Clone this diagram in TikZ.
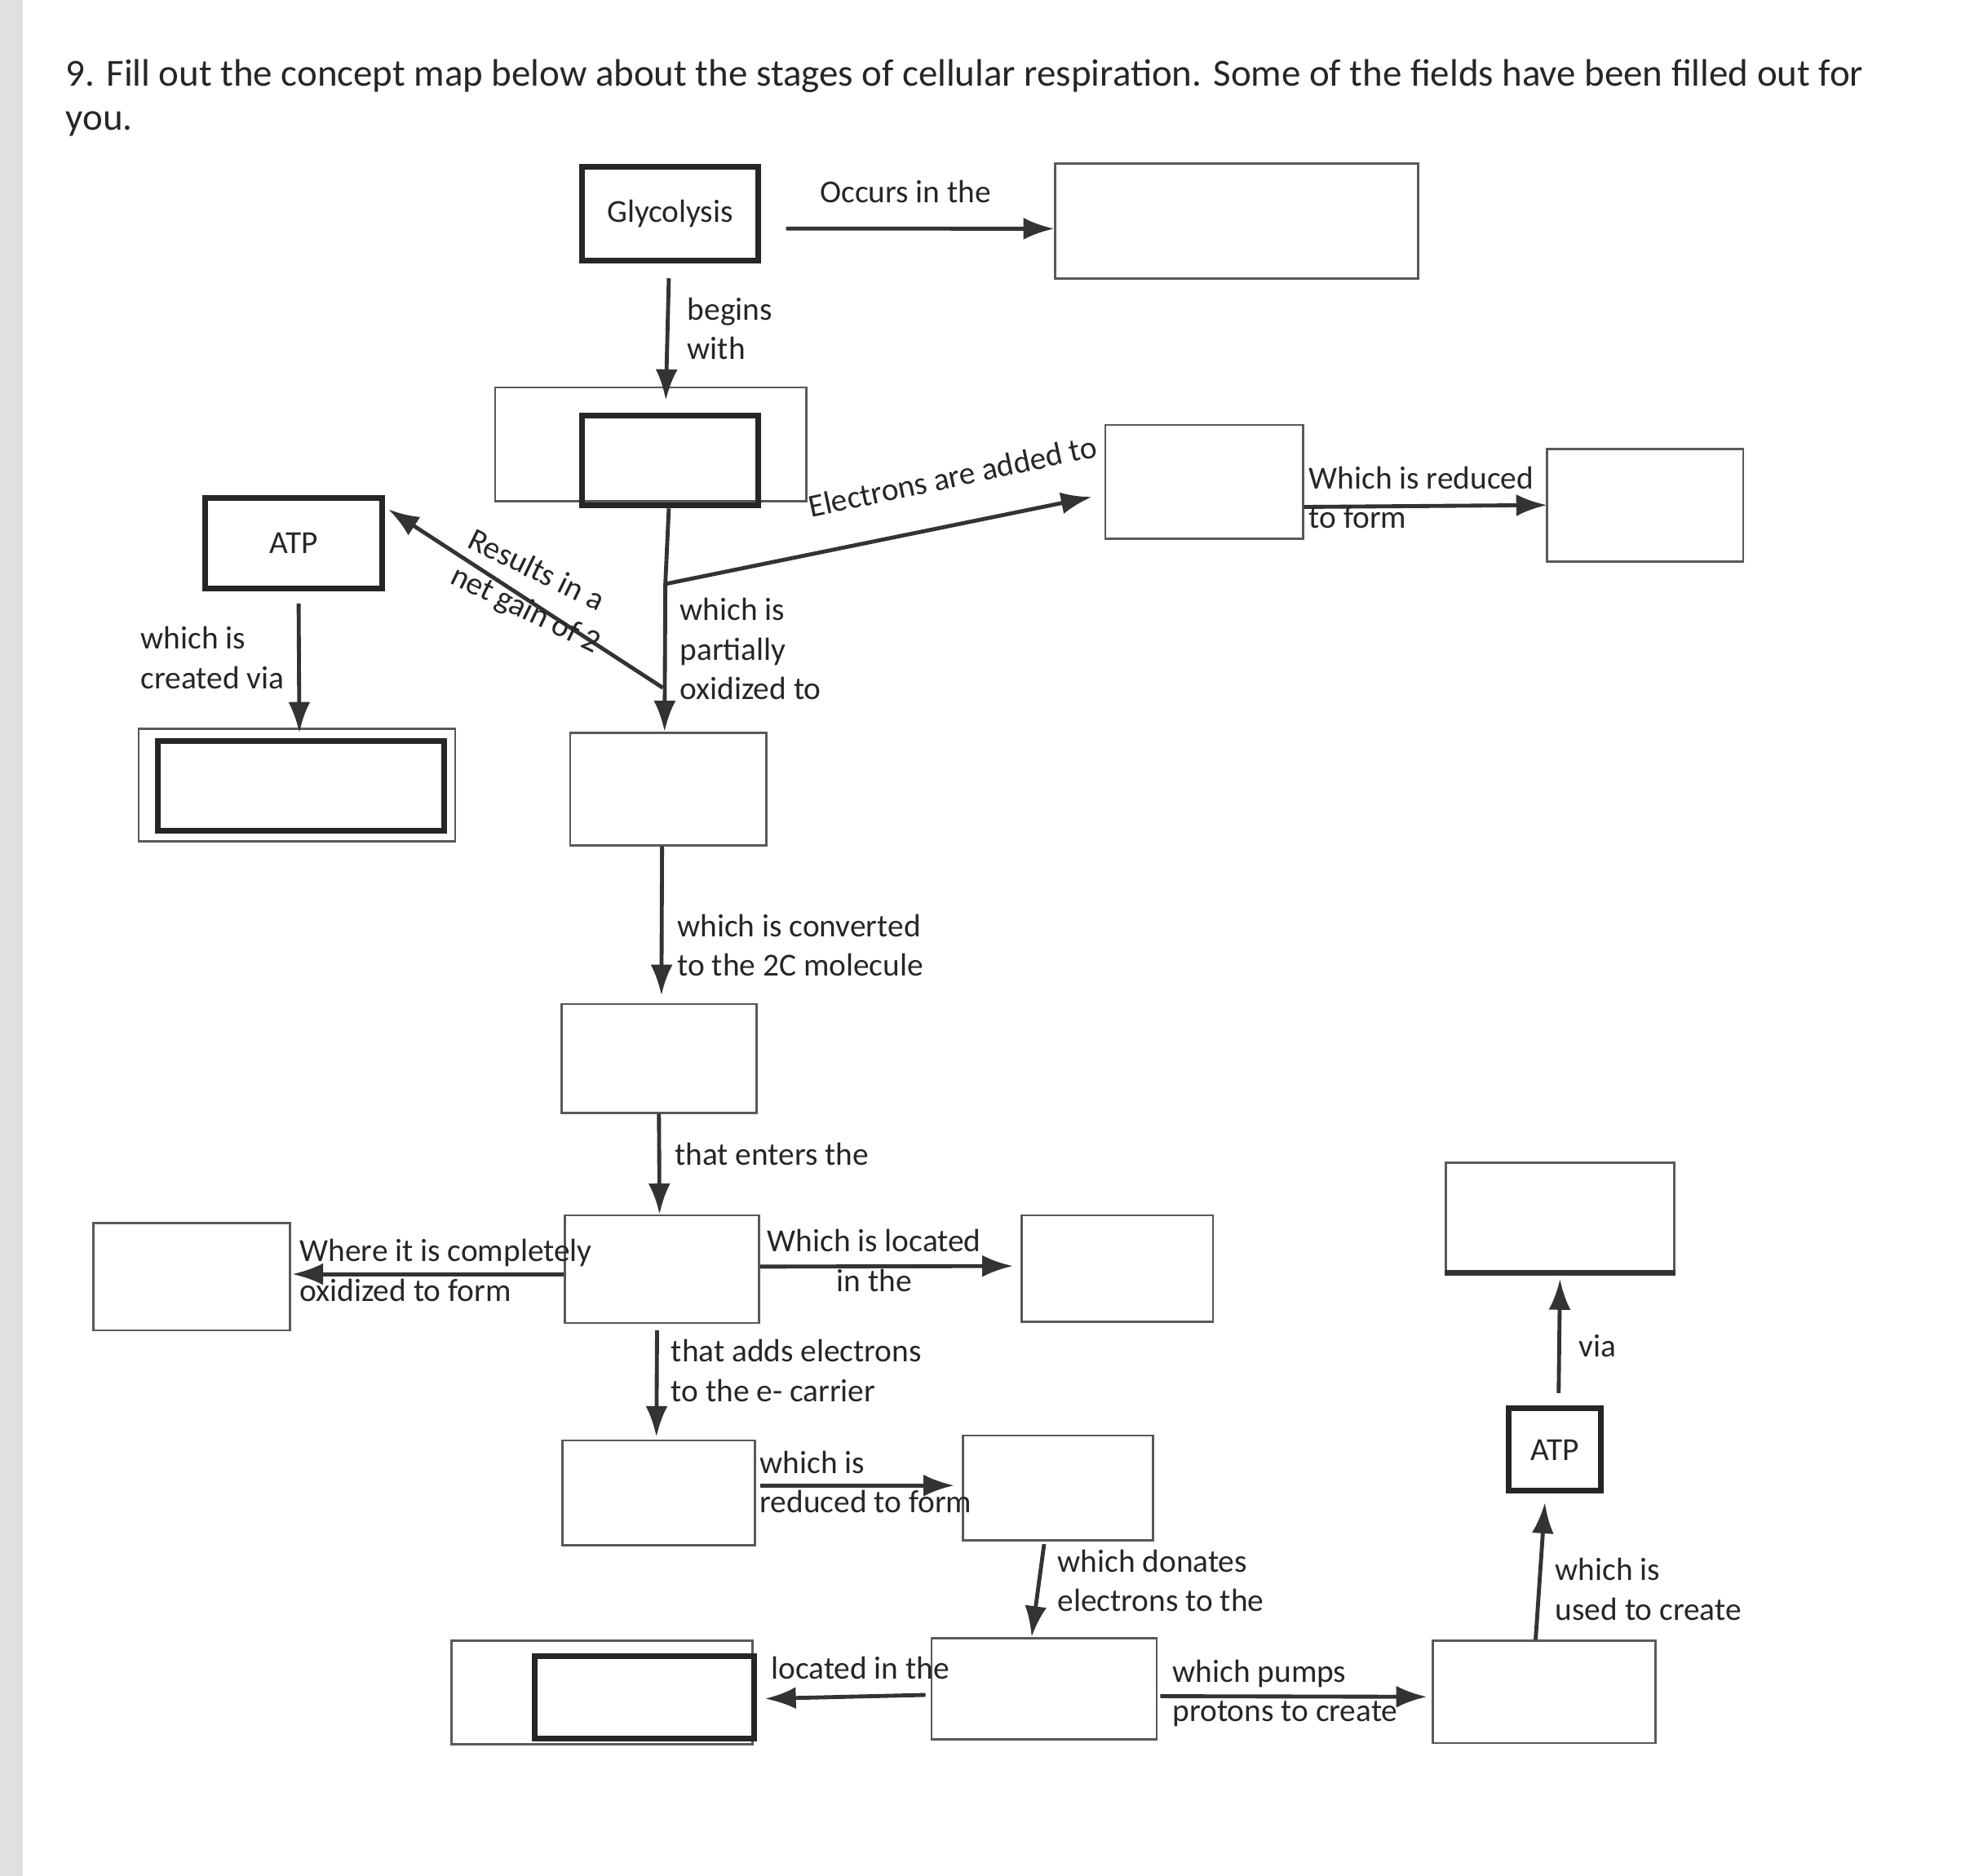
\documentclass[tikz,border=0pt]{standalone}
\usepackage{fontspec}
\setmainfont{Carlito}
\usetikzlibrary{arrows.meta,calc}
\newcommand{\bx}[6][box]{\node[#1,minimum width={(#5-#3)*0.01cm},minimum height={(#6-#4)*0.01cm},anchor=north west] (#2) at (#3,#4) {};}
\begin{document}
\begin{tikzpicture}[x=0.01cm,y=-0.01cm,
  box/.style={draw=black!65,line width=0.5pt,inner sep=0pt},
  tbox/.style={draw=black!85,line width=1.3pt,inner sep=0pt},
  arr/.style={draw=black!80,line width=0.9pt,-{Latex[length=7pt,width=5pt]}},
  lab/.style={font=\fontsize{7.3}{9}\selectfont,text=black!85,inner sep=0pt,align=left,anchor=west}]
\fill[white] (0,0) rectangle (1568,1500);
\fill[black!12] (0,0) rectangle (18,1500);
\useasboundingbox (0,0) rectangle (1568,1500);
\node[lab,font=\fontsize{8.7}{10}\selectfont,anchor=north west] (title) at (52,47) {9. Fill out the concept map below about the stages of cellular respiration. Some of the fields have been filled out for\\you.};
% boxes
\bx[tbox]{gly}{463}{131}{604}{206}
\node[lab,anchor=center] at (gly) {Glycolysis};
\bx{occ}{843}{130}{1133}{222}
\bx{b2o}{395}{309}{644}{400}
\bx[tbox]{b2}{463}{330}{604}{402}
\bx[tbox]{atp1}{162}{396}{303}{468}
\node[lab,anchor=center] at (atp1) {ATP};
\bx{b3o}{110}{582}{363}{672}
\bx[tbox]{b3}{124}{590}{353}{662}
\bx{b4}{883}{339}{1041}{430}
\bx{b5}{1236}{358}{1393}{448}
\bx{b6}{455}{585}{612}{675}
\bx{b7}{448}{802}{604}{889}
\bx{b8}{451}{971}{606}{1057}
\bx{b9}{74}{977}{231}{1063}
\bx{b10}{816}{971}{969}{1056}
\bx{b11}{449}{1151}{603}{1235}
\bx{b12}{769}{1147}{921}{1231}
\bx{b13}{744}{1309}{924}{1390}
\bx{b14o}{360}{1311}{601}{1394}
\bx[tbox]{b14}{425}{1322}{601}{1388}
\bx{b15}{1145}{1311}{1323}{1393}
\bx[tbox]{atp2}{1204}{1124}{1278}{1190}
\node[lab,anchor=center] at (atp2) {ATP};
\bx{b16}{1155}{929}{1338}{1016}
\draw[line width=1.2pt,black!80] (b16.south west) -- (b16.south east);
% connectors
\draw[arr] ($(gly.east)+(20,12)$) -- ($(occ.west)+(0,6)$);
\node[lab] at (655,153) {Occurs in the};
\draw[arr] ($(gly.south)+(-1,12)$) -- ($(b2o.north)+(12,11)$);
\node[lab] at (549,263) {begins\\with};
\coordinate (j1) at (532,467);
\coordinate (j2) at (530,550);
\draw[black!80,line width=0.9pt] ($(b2.south)+(-1,0)$) -- (j1);
\draw[arr] (j1) -- ($(b6.north)+(-3,0)$);
\draw[arr] (j1) -- ($(b4.west)+(-10,12)$);
\node[lab,rotate=12,anchor=south west] at (648,415) {Electrons are added to};
\draw[arr] (j2) -- ($(atp1.east)+(3,-27)$);
\node[lab,rotate=-26,anchor=center,align=left] at (427,474) {Results in a\\net gain of 2};
\node[lab] at (543,519) {which is\\partially\\oxidized to};
\draw[arr] ($(atp1.south)+(4,10)$) -- ($(b3o.north)+(2,4)$);
\node[lab] at (112,526) {which is\\created via};
\draw[arr] ($(b4.east)+(0,20)$) -- ($(b5.west)+(1,0)$);
\node[lab] at (1046,398) {Which is reduced\\to form};
\draw[arr] ($(b6.south)+(-5,0)$) -- ($(b7.north)+(2,-6)$);
\node[lab] at (541,756) {which is converted\\to the 2C molecule};
\draw[arr] ($(b7.south)+(0,0)$) -- ($(b8.north)+(-2,0)$);
\node[lab] at (539,923) {that enters the};
\draw[arr] ($(b8.west)+(0,4)$) -- ($(b9.east)+(1,-2)$);
\node[lab] at (239,1016) {Where it is completely\\oxidized to form};
\draw[arr] ($(b8.east)+(0,-2)$) -- ($(b10.west)+(-6,-2)$);
\node[lab,anchor=center,align=center] at (699,1008) {Which is located\\in the};
\draw[arr] ($(b8.south)+(-4,5)$) -- ($(b11.north)+(-2,-2)$);
\node[lab] at (536,1096) {that adds electrons\\to the e- carrier};
\draw[arr] ($(b11.east)+(3,-6)$) -- ($(b12.west)+(-6,-2)$);
\node[lab] at (607,1185) {which is\\reduced to form};
\draw[arr] ($(b12.south)+(-11,2)$) -- ($(b13.north)+(-10,0)$);
\node[lab] at (845,1264) {which donates\\electrons to the};
\draw[arr] ($(b13.west)+(-4,5)$) -- ($(b14o.east)+(9,5)$);
\node[lab] at (616,1334) {located in the};
\draw[arr] ($(b13.east)+(2,6)$) -- ($(b15.west)+(-4,4)$);
\node[lab] at (937,1354) {which pumps\\protons to create};
\draw[arr] ($(b15.north)+(-7,0)$) -- ($(atp2.south)+(-8,7)$);
\node[lab] at (1243,1271) {which is\\used to create};
\draw[arr] ($(atp2.north)+(3,-10)$) -- ($(b16.south)+(0,5)$);
\node[lab] at (1262,1076) {via};
\end{tikzpicture}
\end{document}
